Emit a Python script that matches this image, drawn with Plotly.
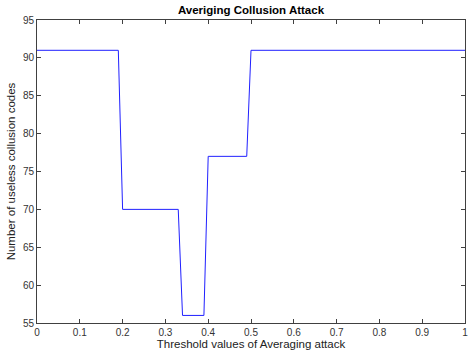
import plotly.graph_objects as go

threshold = [0, 0.19, 0.20, 0.33, 0.34, 0.39, 0.40, 0.49, 0.50, 1.0]
useless_codes = [91, 91, 70, 70, 56, 56, 77, 77, 91, 91]

x_ticks = [0, 0.1, 0.2, 0.3, 0.4, 0.5, 0.6, 0.7, 0.8, 0.9, 1]
x_tick_labels = ["0", "0.1", "0.2", "0.3", "0.4", "0.5", "0.6", "0.7", "0.8", "0.9", "1"]
y_ticks = [55, 60, 65, 70, 75, 80, 85, 90, 95]

fig = go.Figure()
fig.add_trace(go.Scatter(x=threshold, y=useless_codes, mode="lines",
                         line=dict(color="#2020ff", width=1)))

axis_common = dict(showline=True, linecolor="#404040", linewidth=1, mirror="ticks",
                   ticks="inside", ticklen=4, tickcolor="#404040", showgrid=False,
                   zeroline=False, tickfont=dict(family="Liberation Sans, Arial", size=10, color="#333333"))

fig.update_layout(
    width=474, height=354,
    margin=dict(l=37, r=6, t=20, b=31),
    paper_bgcolor="white", plot_bgcolor="white",
    showlegend=False,
    title=dict(text="<b>Averiging Collusion Attack</b>", x=0.5, xref="paper", xanchor="center",
               y=1 - 10/354, yanchor="middle",
               font=dict(family="Liberation Sans, Arial", size=11.5, color="#000000")),
    xaxis=dict(range=[0, 1], tickvals=x_ticks, ticktext=x_tick_labels,
               title=dict(text="Threshold values of Averaging attack", standoff=2,
                          font=dict(family="Liberation Sans, Arial", size=11.5, color="#222222")),
               **axis_common),
    yaxis=dict(range=[55, 95], tickvals=y_ticks,
               title=dict(text="Number of useless collusion codes", standoff=4,
                          font=dict(family="Liberation Sans, Arial", size=11.5, color="#222222")),
               **axis_common),
)

fig.write_html("out.html")
